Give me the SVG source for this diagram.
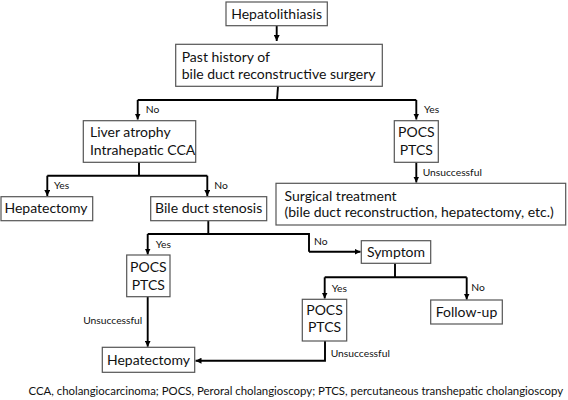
<svg xmlns="http://www.w3.org/2000/svg" width="568" height="400" viewBox="0 0 568 400">
<defs>
<marker id="ah" viewBox="0 0 10 10" refX="10" refY="5" markerWidth="6" markerHeight="6" markerUnits="userSpaceOnUse" orient="auto">
<path d="M0,0 L10,5 L0,10 z" fill="#000"/>
</marker>
<style>
.box{fill:#fff;stroke:#555;stroke-width:1.2}
.t{font-family:Lato,"Liberation Sans",sans-serif;font-size:14px;fill:#111}
.c{text-anchor:middle}
.l{font-family:Lato,"Liberation Sans",sans-serif;font-size:10.3px;fill:#111}
.ln{fill:none;stroke:#000;stroke-width:1.9}
.ar{fill:none;stroke:#000;stroke-width:1.9;marker-end:url(#ah)}
</style>
</defs>
<rect width="568" height="400" fill="#fff"/>
<g id="connectors">
<path class="ar" d="M276.7,26 V41"/>
<path class="ln" d="M278,86.3 L277,100"/>
<path class="ln" d="M137.7,100 H416.3"/>
<path class="ar" d="M137.7,100 V119.5"/>
<path class="ar" d="M416.3,100 V119.5"/>
<path class="ar" d="M416.3,162.3 V182.5"/>
<path class="ln" d="M139,162.3 V175.7"/>
<path class="ln" d="M47.3,175.7 H207.3"/>
<path class="ar" d="M47.3,175.7 V196"/>
<path class="ar" d="M207.3,175.7 V196"/>
<path class="ln" d="M208.3,220.7 V234"/>
<path class="ln" d="M147.7,234 H309 V251.7"/>
<path class="ar" d="M147.7,234 V254.5"/>
<path class="ar" d="M309,251.7 H360.5"/>
<path class="ln" d="M395,263.3 V277.3"/>
<path class="ln" d="M324.7,277.3 H466.7"/>
<path class="ar" d="M324.7,277.3 V298.5"/>
<path class="ar" d="M466.7,277.3 V299.5"/>
<path class="ar" d="M147.7,296.7 V346.7"/>
<path class="ar" d="M325,341 V360.7 H195.5"/>
<text class="l" x="145.7" y="113">No</text>
<text class="l" x="424" y="113">Yes</text>
<text class="l" x="422.7" y="175.7">Unsuccessful</text>
<text class="l" x="54" y="188.5">Yes</text>
<text class="l" x="214.3" y="188.5">No</text>
<text class="l" x="155.7" y="248.3">Yes</text>
<text class="l" x="314" y="245">No</text>
<text class="l" x="331.7" y="292.3">Yes</text>
<text class="l" x="471.3" y="291">No</text>
<text class="l" x="142.3" y="324" text-anchor="end">Unsuccessful</text>
<text class="l" x="330.7" y="356.7">Unsuccessful</text>
</g>
<g id="hepatolithiasis"><rect class="box" x="226" y="2" width="101.3" height="23.7"/><text class="t c" x="276.6" y="18.5">Hepatolithiasis</text></g>
<g id="past-history"><rect class="box" x="175.7" y="44.3" width="206.6" height="42"/><text class="t" x="181.7" y="62.3">Past history of</text><text class="t" x="181.7" y="79">bile duct reconstructive surgery</text></g>
<g id="liver-atrophy"><rect class="box" x="83.3" y="120.7" width="112.4" height="41.6"/><text class="t" x="90" y="136.7">Liver atrophy</text><text class="t" x="90" y="155">Intrahepatic CCA</text></g>
<g id="pocs-ptcs-1"><rect class="box" x="394.3" y="120.7" width="44" height="41.6"/><text class="t c" x="416.3" y="136.7">POCS</text><text class="t c" x="416.3" y="154.5">PTCS</text></g>
<g id="surgical"><rect class="box" x="276" y="183.3" width="289.7" height="41.7"/><text class="t" x="284.5" y="200.5">Surgical treatment</text><text class="t" x="284.5" y="217.3">(bile duct reconstruction, hepatectomy, etc.)</text></g>
<g id="hepatectomy-1"><rect class="box" x="1" y="196.7" width="91.7" height="24"/><text class="t c" x="46" y="213.3">Hepatectomy</text></g>
<g id="bile-duct-stenosis"><rect class="box" x="150.7" y="196.7" width="116" height="24"/><text class="t c" x="208.7" y="213.3">Bile duct stenosis</text></g>
<g id="symptom"><rect class="box" x="361.3" y="240.7" width="69.4" height="22.6"/><text class="t c" x="396" y="256.7">Symptom</text></g>
<g id="pocs-ptcs-2"><rect class="box" x="126.7" y="255" width="43.3" height="41.7"/><text class="t c" x="148.3" y="271.7">POCS</text><text class="t c" x="148.3" y="290">PTCS</text></g>
<g id="pocs-ptcs-3"><rect class="box" x="302.3" y="299.3" width="44.4" height="41.7"/><text class="t c" x="324.5" y="315">POCS</text><text class="t c" x="324.5" y="332.3">PTCS</text></g>
<g id="follow-up"><rect class="box" x="430.7" y="300" width="71.6" height="24"/><text class="t c" x="466.5" y="317.3">Follow-up</text></g>
<g id="hepatectomy-2"><rect class="box" x="102.3" y="347.3" width="92.4" height="25"/><text class="t c" x="148.5" y="365">Hepatectomy</text></g>
<text class="l" x="295.8" y="395" text-anchor="middle" style="font-size:11.4px">CCA, cholangiocarcinoma; POCS, Peroral cholangioscopy; PTCS, percutaneous transhepatic cholangioscopy</text>
</svg>
